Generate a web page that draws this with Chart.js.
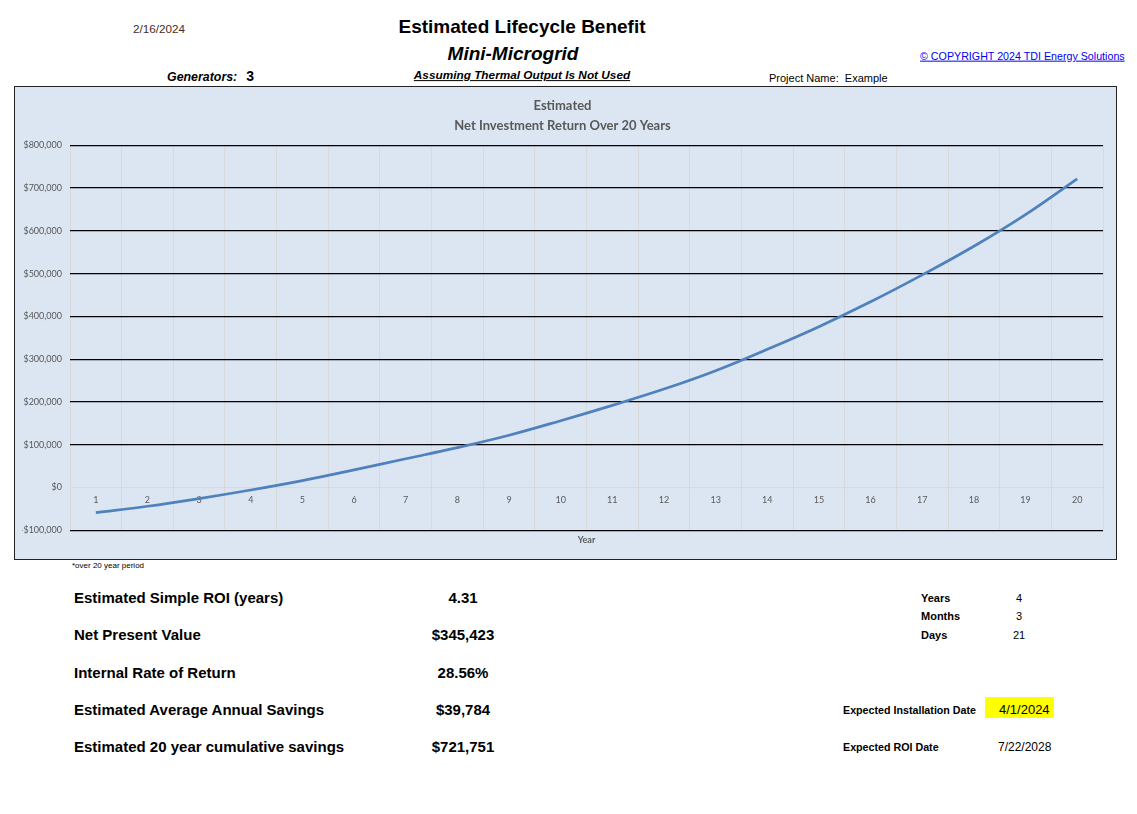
<!DOCTYPE html>
<html>
<head>
<meta charset="utf-8">
<script src="https://cdn.jsdelivr.net/npm/chart.js@4.4.1/dist/chart.umd.min.js"></script>
<style>
  body { margin: 0; background: #fff; width: 1137px; height: 814px; position: relative; overflow: hidden;
         font-family: "Liberation Sans", Arial, sans-serif; color: #000; }
  .t { position: absolute; white-space: nowrap; transform: translateY(-50%); line-height: 1; }
  .c { transform: translate(-50%, -50%); }
  .b { font-weight: bold; }
  .i { font-style: italic; }
  .u { text-decoration: underline; }
  #box { position: absolute; left: 14px; top: 86px; width: 1101px; height: 472px;
         border: 1px solid #222; background: #dce6f2; }
</style>
</head>
<body>
<div class="t" style="left:133px; top:29px; font-size:11.7px; color:#4a2c22;">2/16/2024</div>
<div class="t c b" style="left:522px; top:26px; font-size:19px;">Estimated Lifecycle Benefit</div>
<div class="t c b i" style="left:513px; top:53px; font-size:19px;">Mini-Microgrid</div>
<div class="t u" style="left:920px; top:56px; font-size:10.7px; color:#0000ee;">© COPYRIGHT 2024 TDI Energy Solutions</div>
<div class="t b i" style="left:167px; top:76px; font-size:12.4px;">Generators:<span style="font-size:14px; font-style:normal; margin-left:9px;">3</span></div>
<div class="t c b i u" style="left:522px; top:76px; font-size:11.8px;">Assuming Thermal Output Is Not Used</div>
<div class="t" style="left:769px; top:78px; font-size:11px;">Project Name:&nbsp; Example</div>

<div id="box"><canvas id="roiChart"></canvas></div>

<div class="t" style="left:72px; top:566px; font-size:8px;">*over 20 year period</div>

<div class="t b" style="left:74px; top:597px; font-size:15px;">Estimated Simple ROI (years)</div>
<div class="t b" style="left:74px; top:634px; font-size:15px;">Net Present Value</div>
<div class="t b" style="left:74px; top:672px; font-size:15px;">Internal Rate of Return</div>
<div class="t b" style="left:74px; top:709px; font-size:15px;">Estimated Average Annual Savings</div>
<div class="t b" style="left:74px; top:746px; font-size:15px;">Estimated 20 year cumulative savings</div>
<div class="t c b" style="left:463px; top:597px; font-size:15px;">4.31</div>
<div class="t c b" style="left:463px; top:634px; font-size:15px;">$345,423</div>
<div class="t c b" style="left:463px; top:672px; font-size:15px;">28.56%</div>
<div class="t c b" style="left:463px; top:709px; font-size:15px;">$39,784</div>
<div class="t c b" style="left:463px; top:746px; font-size:15px;">$721,751</div>

<div class="t b" style="left:921px; top:598px; font-size:11px;">Years</div>
<div class="t b" style="left:921px; top:616px; font-size:11px;">Months</div>
<div class="t b" style="left:921px; top:635px; font-size:11px;">Days</div>
<div class="t c" style="left:1019px; top:598px; font-size:11px;">4</div>
<div class="t c" style="left:1019px; top:616px; font-size:11px;">3</div>
<div class="t c" style="left:1019px; top:635px; font-size:11px;">21</div>

<div class="t b" style="left:843px; top:710px; font-size:10.7px;">Expected Installation Date</div>
<div style="position:absolute; left:985px; top:697px; width:69px; height:21px; background:#ffff00;"></div>
<div class="t" style="left:999px; top:709px; font-size:13px;">4/1/2024</div>
<div class="t b" style="left:843px; top:747px; font-size:10.7px;">Expected ROI Date</div>
<div class="t" style="left:998px; top:747px; font-size:12px;">7/22/2028</div>

<script>
// cumulative net return per year
const years = ['1', '2', '3', '4', '5', '6', '7', '8', '9', '10',
               '11', '12', '13', '14', '15', '16', '17', '18', '19', '20'];
const netReturn = [-59000, -44000, -26000, -6000, 16000, 41000, 67000, 93000, 122000, 156000,
                   192000, 230000, 273000, 323000, 376000, 434000, 497000, 564000, 638000, 721751];
const chartTitle = ['Estimated', 'Net Investment Return Over 20 Years'];

const grey = '#595959';
const lightGrid = '#d9d9d9';

function money(v) {
    const s = '$' + Math.abs(v).toLocaleString('en-US');
    return v < 0 ? '-' + s : s;
}

const ctx = document.getElementById('roiChart').getContext('2d');
const roiChart = new Chart(ctx, {
    type: 'line',
    data: {
        labels: years,
        datasets: [{
            label: 'Net Investment Return',
            data: netReturn,
            borderColor: '#4f81bd',
            borderWidth: 2.75,
            pointRadius: 0,
            tension: 0.4,
            fill: false
        }]
    },
    options: {
        responsive: true,
        maintainAspectRatio: false,
        animation: false,
        layout: { padding: { left: 7, right: 13, top: 1, bottom: 10 } },
        plugins: {
            legend: { display: false },
            tooltip: { enabled: false },
            title: {
                display: true,
                text: chartTitle,
                color: grey,
                font: { family: 'Lato', size: 13, weight: 'bold', lineHeight: 1.55 },
                padding: { top: 8, bottom: 9 }
            }
        },
        scales: {
            x: {
                type: 'category',
                position: { y: 0 },
                offset: true,
                grid: { offset: true, color: lightGrid, drawTicks: false },
                border: { color: lightGrid },
                ticks: { color: grey, padding: 7, font: { family: 'Lato', size: 9 } }
            },
            x2: {
                type: 'category',
                labels: years,
                position: 'bottom',
                grid: { display: false, drawTicks: false },
                border: { display: false },
                ticks: { display: false },
                title: { display: true, text: 'Year', color: grey,
                         font: { family: 'Lato', size: 9, weight: 'bold' } }
            },
            y: {
                min: -100000,
                max: 800000,
                afterFit: axis => { axis.width = 48; },
                grid: {
                    drawTicks: false,
                    color: c => (c.tick && c.tick.value === 0) ? lightGrid : '#000',
                    lineWidth: 1.2
                },
                border: { display: false },
                ticks: {
                    stepSize: 100000,
                    padding: 8,
                    color: grey,
                    font: { family: 'Lato', size: 9 },
                    callback: v => money(v)
                }
            }
        }
    }
});
</script>
</body>
</html>
